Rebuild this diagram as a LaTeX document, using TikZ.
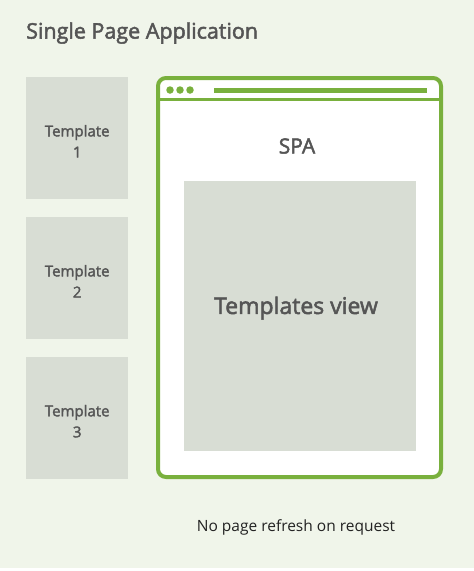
\documentclass[tikz,border=0pt]{standalone}
\usepackage{fontspec}
\setmainfont{Open Sans}
\newfontfamily\med[FakeBold=2.2]{Open Sans}
\definecolor{bg}{HTML}{F0F5EA}
\definecolor{tpl}{HTML}{D8DDD4}
\definecolor{grn}{HTML}{79B03D}
\definecolor{txt}{HTML}{555555}
\definecolor{dark}{HTML}{222222}
\tikzset{
  tplbox/.style={fill=tpl, draw=none, minimum width=102pt, minimum height=122pt, anchor=north west, inner sep=0pt, draw=none},
  tpllbl/.style={text=txt, font=\med\fontsize{15}{21}\selectfont, align=center},
  dot/.style={circle, fill=grn, minimum size=7.5pt, inner sep=0pt}
}
\begin{document}
\begin{tikzpicture}[x=1pt,y=-1pt]
\useasboundingbox (0,0) rectangle (474,571);
\fill[bg] (0,0) rectangle (474,571);
\fill[white] (0,568) rectangle (474,571);
\node[anchor=west, inner sep=0pt, text=txt, font=\med\fontsize{21.5}{24}\selectfont] (title) at (26,33) {Single Page Application};
\node[tplbox] (t1) at (26,77) {};
\node[tplbox] (t2) at (26,217) {};
\node[tplbox] (t3) at (26,357) {};
\node[tpllbl] (l1) at ([yshift=-3pt]t1.center) {Template\\1};
\node[tpllbl] (l2) at ([yshift=-3pt]t2.center) {Template\\2};
\node[tpllbl] (l3) at ([yshift=-3pt]t3.center) {Template\\3};
\draw[grn, line width=4pt, fill=white, rounded corners=8pt] (158,78) rectangle (441,477);
\draw[grn, line width=3pt] (158,99) -- (441,99);
\node[dot] (d1) at (170,90) {};
\node[dot] (d2) at (180,90) {};
\node[dot] (d3) at (190,90) {};
\draw[grn, line width=5pt] (214,90) -- (427,90);
\node[text=txt, font=\med\fontsize{21}{24}\selectfont] (spa) at (297,146) {SPA};
\node[fill=tpl, minimum width=232pt, minimum height=270pt, anchor=north west, inner sep=0pt] (view) at (184,181) {};
\node[text=txt, font=\med\fontsize{23}{26}\selectfont] (viewlbl) at (296,308) {Templates view};
\node[text=dark, font=\fontsize{15.5}{18}\selectfont] (note) at (296,527) {No page refresh on request};
\end{tikzpicture}
\end{document}
